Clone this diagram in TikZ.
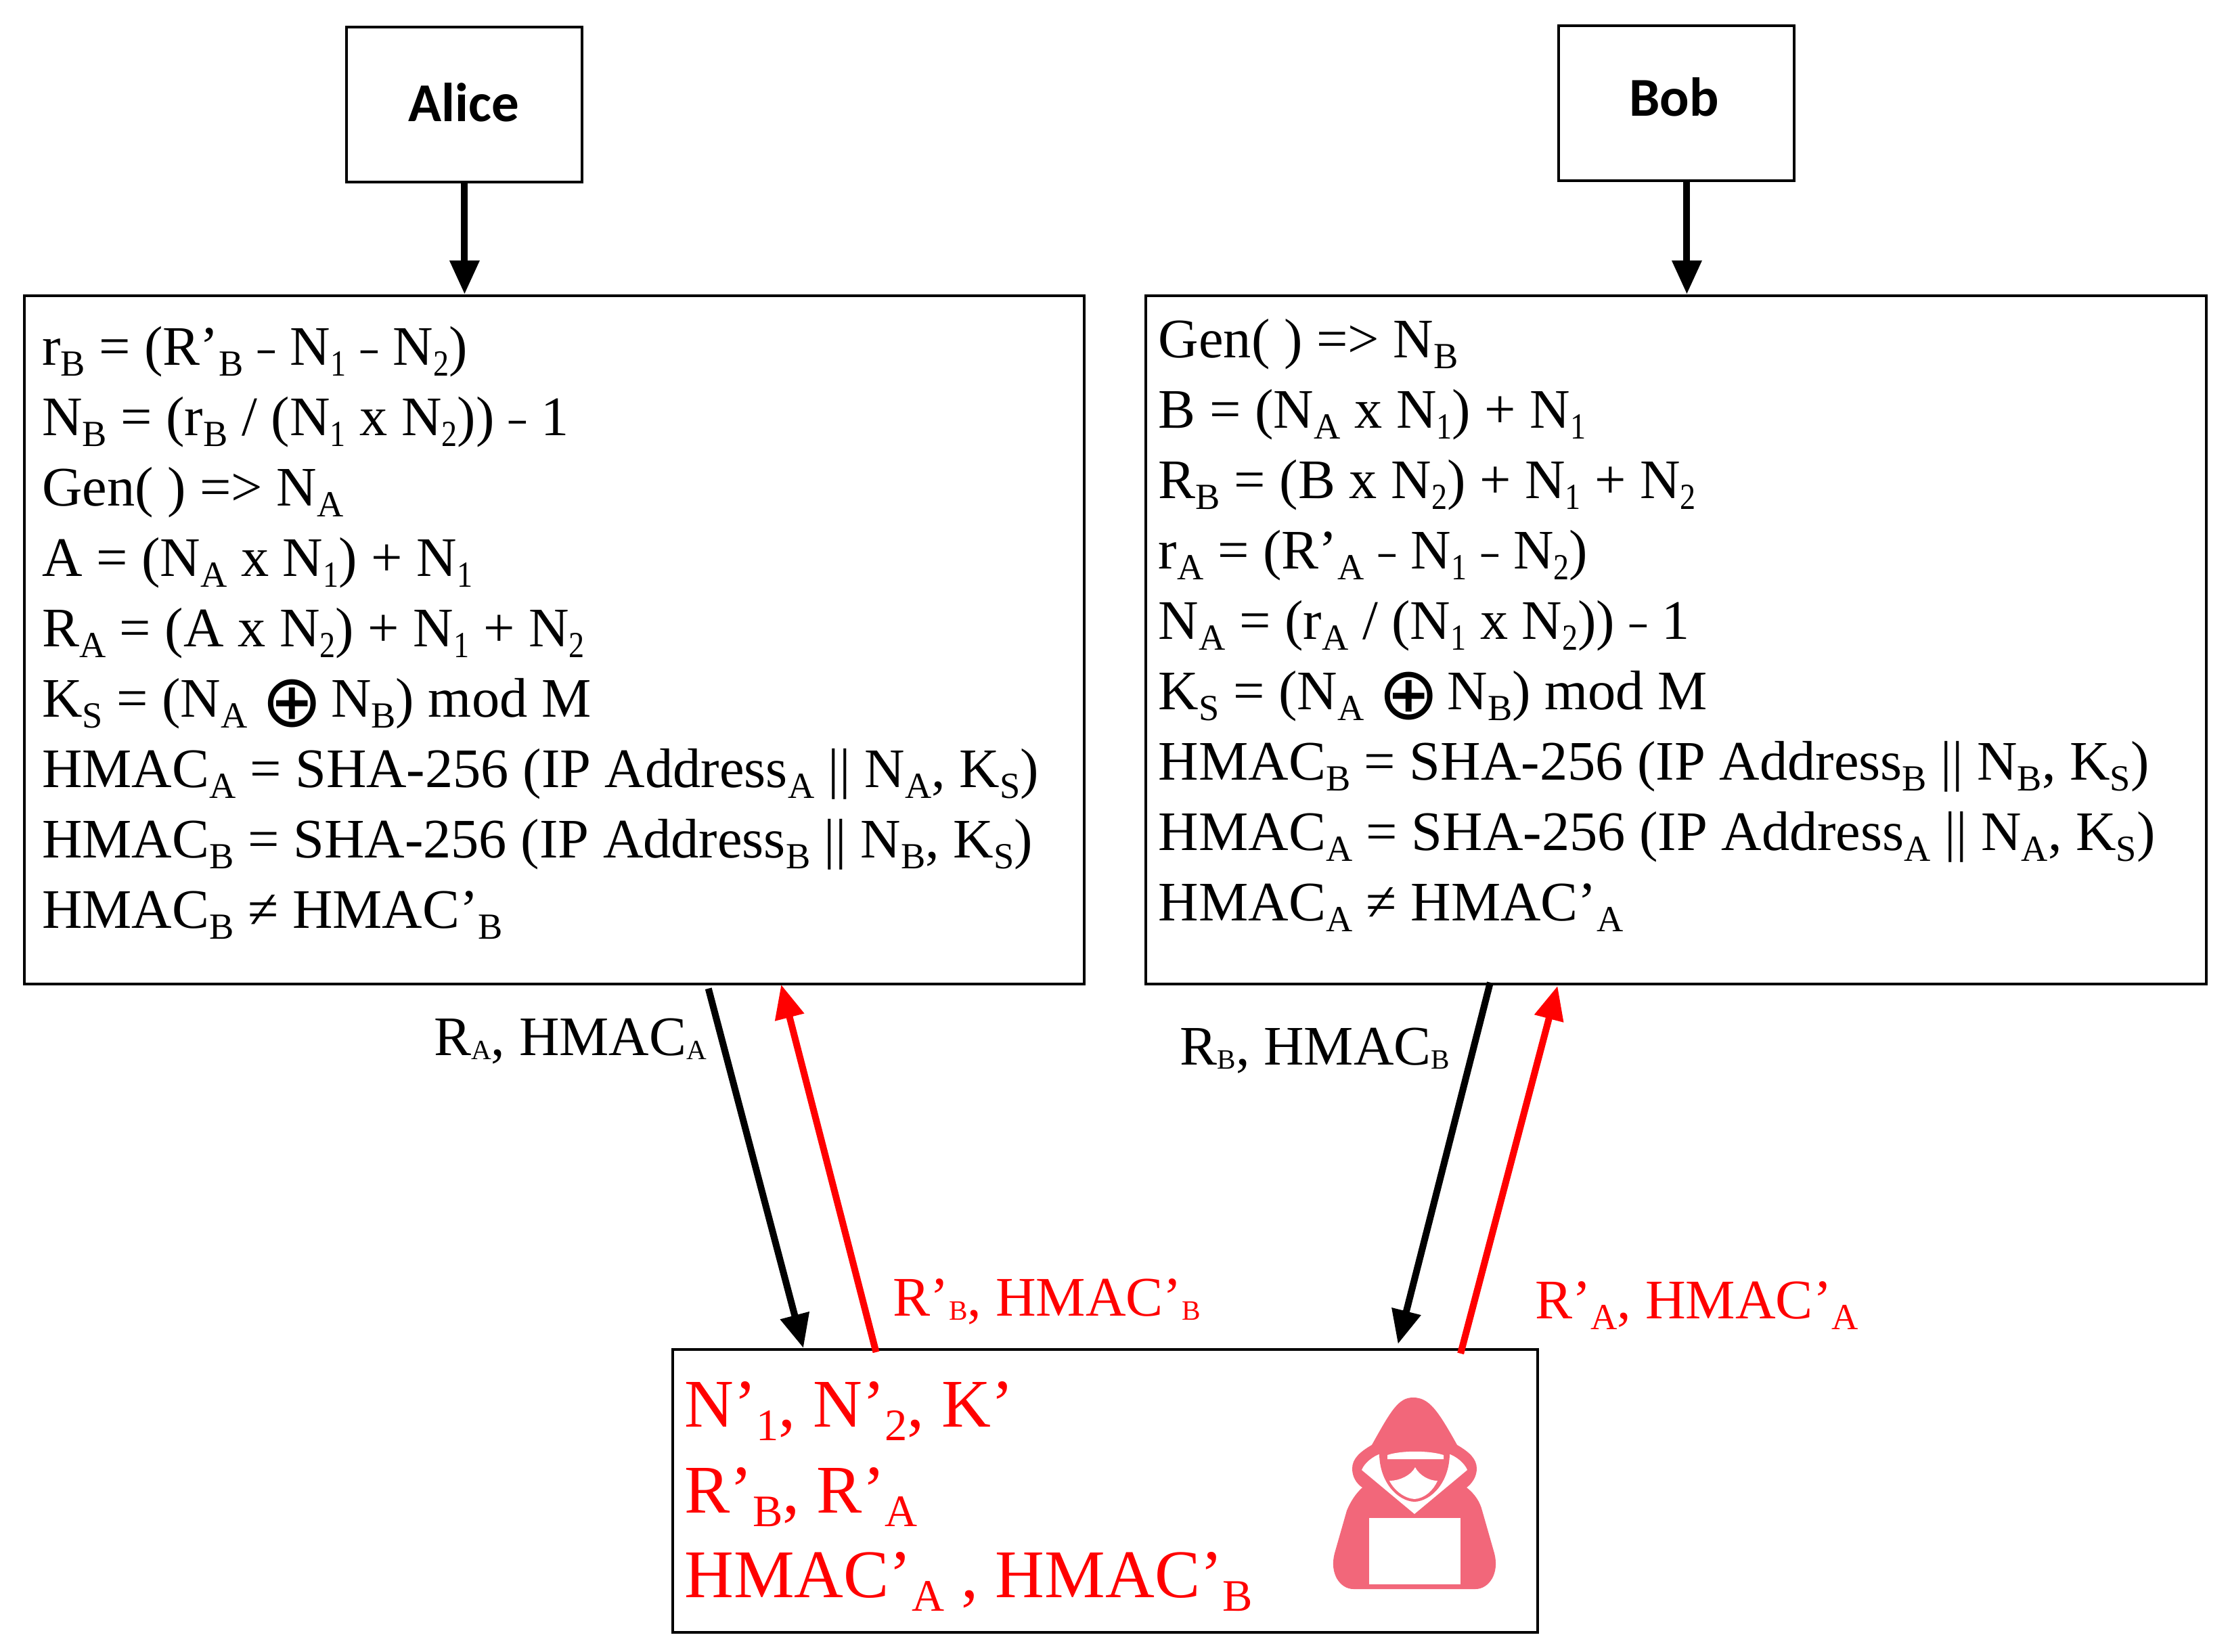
\documentclass[tikz,border=0pt]{standalone}
\usepackage{fontspec}
\setmainfont{Liberation Serif}
\newfontfamily\calfont{Carlito}
\newfontfamily\symfont{DejaVu Sans}
\usetikzlibrary{arrows.meta}
\newcommand{\dn}[1]{\raisebox{-0.2em}{\scalebox{0.66}{#1}}}
\newcommand{\dg}[1]{\raisebox{-0.2em}{\scalebox{0.56}[0.66]{#1}}}
\newcommand{\tn}[1]{\raisebox{-0.08em}{\scalebox{0.5}{#1}}}
\newcommand{\ds}{\hspace{0.27em}\scalebox{0.6}[1]{–}\hspace{0.27em}}
\newcommand{\opl}{\raisebox{-7pt}{{\symfont\fontsize{54}{54}\selectfont ⊕}}}
\definecolor{hack}{HTML}{F2677A}
\tikzset{
  x=0.4975pt,y=-0.4975pt,
  box/.style={draw=black,line width=2pt,inner sep=0pt},
  who/.style={box,minimum width=174pt,minimum height=114.4pt,anchor=north west},
  whot/.style={font=\calfont\bfseries\fontsize{40.5}{48}\selectfont,inner sep=0pt},
  calc/.style={box,anchor=north west,minimum width=783pt,minimum height=508.5pt},
  eqs/.style={anchor=north west,align=left,inner sep=0pt,font=\fontsize{41.2}{52}\selectfont},
  lab/.style={anchor=base west,inner sep=0pt,font=\fontsize{41.2}{50}\selectfont},
  redlab/.style={lab,text=red,font=\fontsize{41.3}{46}\selectfont},
  hkt/.style={anchor=base west,inner sep=0pt,text=red,font=\fontsize{50.4}{63}\selectfont},
  arr/.style={line width=5pt,-{Triangle[length=25pt,width=21pt]}},
}
\begin{document}
\begin{tikzpicture}
\useasboundingbox (0,0) rectangle (3311.6,2452.3);
\node[who] (alice) at (513,38) {};
\node[whot] (alicet) at (689,152) {Alice};
\node[who] (bob) at (2313,36) {};
\node[whot] (bobt) at (2486,144) {Bob};
\node[calc] (left) at (34,437) {};
\node[calc] (right) at (1700,437) {};
\node[box,anchor=north west,minimum width=639pt,minimum height=209pt] (hk) at (997,2002) {};
\begin{scope}[x=0.5pt,y=-0.5pt]
\fill[white] (1946,2024) rectangle (2269,2409);
\end{scope}
\node[eqs] (eqa) at (62,484) {%
r\dn{B} = (R’\dn{B}\ds N\dg{1}\ds N\dg{2})\\
N\dn{B} = (r\dn{B} / (N\dg{1} x N\dg{2}))\ds 1\\
Gen( ) => N\dn{A}\\
A = (N\dn{A} x N\dg{1}) + N\dg{1}\\
R\dn{A} = (A x N\dg{2}) + N\dg{1} + N\dg{2}\\
K\dn{S} = (N\dn{A} \opl{}\hspace{-0.1em} N\dn{B}) mod M\\
HMAC\dn{A} = SHA-256 (IP Address\dn{A} || N\dn{A}, K\dn{S})\\
HMAC\dn{B} = SHA-256 (IP Address\dn{B} || N\dn{B}, K\dn{S})\\
HMAC\dn{B} ≠ HMAC’\dn{B}};
\node[eqs] (eqb) at (1720,473) {%
Gen( ) => N\dn{B}\\
B = (N\dn{A} x N\dg{1}) + N\dg{1}\\
R\dn{B} = (B x N\dg{2}) + N\dg{1} + N\dg{2}\\
r\dn{A} = (R’\dn{A}\ds N\dg{1}\ds N\dg{2})\\
N\dn{A} = (r\dn{A} / (N\dg{1} x N\dg{2}))\ds 1\\
K\dn{S} = (N\dn{A} \opl{}\hspace{-0.1em} N\dn{B}) mod M\\
HMAC\dn{B} = SHA-256 (IP Address\dn{B} || N\dn{B}, K\dn{S})\\
HMAC\dn{A} = SHA-256 (IP Address\dn{A} || N\dn{A}, K\dn{S})\\
HMAC\dn{A} ≠ HMAC’\dn{A}};
\node[lab] (l1) at (644,1567) {R\tn{A}, HMAC\tn{A}};
\node[lab] (l2) at (1752,1581) {R\tn{B}, HMAC\tn{B}};
\node[redlab] (l3) at (1326,1954) {R’\tn{B}, HMAC’\tn{B}};
\node[redlab] (l4) at (2279,1958) {R’\dn{A}, HMAC’\dn{A}};
\node[hkt] (ha) at (1016,2119) {N’\dn{1}, N’\dn{2}, K’};
\node[hkt] (hb) at (1016,2247) {R’\dn{B}, R’\dn{A}};
\node[hkt] (hc) at (1016,2372) {HMAC’\dn{A} , HMAC’\dn{B}};
% connectors
\coordinate (a1) at (1052,1468); \coordinate (a2) at (1193,2002);
\coordinate (a3) at (1301,2008); \coordinate (a4) at (1160,1462);
\coordinate (a5) at (2213,1459); \coordinate (a6) at (2076,1996);
\coordinate (a7) at (2169,2010); \coordinate (a8) at (2313,1464);
\coordinate (b1) at (2505,266); \coordinate (b2) at (2505,437);
\draw[arr] (alice.south) -- (alice.south |- left.north);
\draw[arr] (b1) -- (b2);
\draw[arr] (a1) -- (a2);
\draw[arr,red] (a3) -- (a4);
\draw[arr] (a5) -- (a6);
\draw[arr,red] (a7) -- (a8);
% hacker icon
\begin{scope}[x=0.5pt,y=-0.5pt]
\fill[hack] (2088,2065) .. controls (2112,2065) and (2125,2085) .. (2153,2135)
  .. controls (2170,2145) and (2182,2155) .. (2182,2170)
  .. controls (2182,2182) and (2175,2192) .. (2167,2198)
  .. controls (2180,2208) and (2187,2220) .. (2190,2232)
  -- (2208,2295) .. controls (2216,2325) and (2200,2348) .. (2180,2348)
  -- (2000,2348) .. controls (1980,2348) and (1964,2325) .. (1972,2295)
  -- (1990,2232) .. controls (1995,2220) and (2002,2208) .. (2013,2198)
  .. controls (2004,2192) and (1998,2182) .. (1998,2170)
  .. controls (1998,2155) and (2010,2145) .. (2027,2135)
  .. controls (2055,2085) and (2066,2065) .. (2088,2065) -- cycle;
\fill[white] (2012,2172) .. controls (2016,2162) and (2028,2152) .. (2040,2148)
  -- (2140,2148) .. controls (2152,2152) and (2164,2162) .. (2168,2172)
  -- (2090,2237) -- cycle;
\fill[hack] (2038,2147) -- (2142,2147) .. controls (2142,2190) and (2115,2218) .. (2090,2219)
  .. controls (2065,2218) and (2038,2190) .. (2038,2147) -- cycle;
\fill[white] (2050,2150) .. controls (2070,2143) and (2112,2143) .. (2133,2150) -- (2133,2156) -- (2050,2156) -- cycle;
\fill[white] (2053,2188) .. controls (2068,2188) and (2085,2180) .. (2091,2168)
  .. controls (2097,2180) and (2112,2188) .. (2124,2188)
  .. controls (2118,2202) and (2105,2214) .. (2090,2215)
  .. controls (2075,2214) and (2060,2202) .. (2053,2188) -- cycle;
\fill[white] (2023,2243) rectangle (2158,2341);
\end{scope}
\end{tikzpicture}
\end{document}
